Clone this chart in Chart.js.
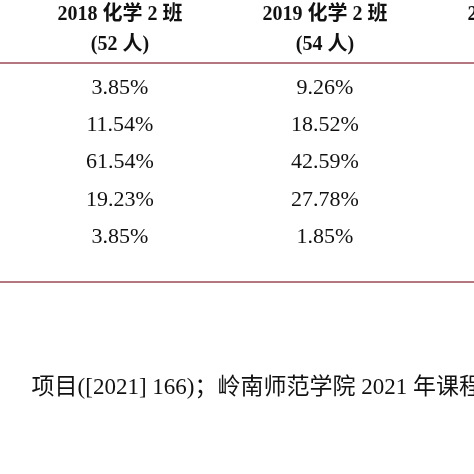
<!DOCTYPE html>
<html><head><meta charset="utf-8">
<script src="https://cdn.jsdelivr.net/npm/chart.js@4"></script>
<style>html,body{margin:0;padding:0;background:#fff}#c{display:block}</style>
</head><body>
<div style="width:474px;height:474px"><canvas id="c"></canvas></div>
<script>
const headers1 = ['2018 化学 2 班', '2019 化学 2 班', '2020 化学 2 班'];
const headers2 = ['(52 人)', '(54 人)', ''];
const class2018 = [3.85, 11.54, 61.54, 19.23, 3.85];
const class2019 = [9.26, 18.52, 42.59, 27.78, 1.85];
const footnote = '项目([2021] 166)；岭南师范学院 2021 年课程';

const serif = '"Liberation Serif", "Noto Sans CJK SC", serif';
const lineColor = '#9c4a55';

const points = [];
[class2018, class2019].forEach((col, ci) => col.forEach((v, ri) => points.push({ x: ci, y: ri, v })));

const tablePlugin = {
  id: 'table',
  afterDatasetsDraw(chart) {
    const { ctx, scales: { x, y }, width } = chart;
    ctx.save();
    ctx.fillStyle = '#111';
    ctx.textAlign = 'center';
    ctx.textBaseline = 'middle';
    ctx.font = 'bold 20px ' + serif;
    headers1.forEach((h, i) => ctx.fillText(h, x.getPixelForValue(i), y.getPixelForValue(-1.96)));
    headers2.forEach((h, i) => ctx.fillText(h, x.getPixelForValue(i), y.getPixelForValue(-1.15)));
    ctx.font = '22px ' + serif;
    points.forEach(p => ctx.fillText(p.v.toFixed(2) + '%', x.getPixelForValue(p.x), y.getPixelForValue(p.y)));
    ctx.strokeStyle = lineColor;
    ctx.lineWidth = 1.5;
    [-0.67, 5.2].forEach(v => {
      const py = y.getPixelForValue(v);
      ctx.beginPath(); ctx.moveTo(0, py); ctx.lineTo(width, py); ctx.stroke();
    });
    ctx.textAlign = 'right';
    ctx.font = '23px ' + serif;
    ctx.fillText(footnote, width + 8, y.getPixelForValue(8.04));
    ctx.restore();
  }
};

new Chart(document.getElementById('c'), {
  type: 'scatter',
  data: { datasets: [{ data: points, pointRadius: 0 }] },
  options: {
    responsive: true, maintainAspectRatio: false, animation: false,
    layout: { padding: 0 },
    plugins: { legend: { display: false }, tooltip: { enabled: false } },
    scales: {
      x: { type: 'linear', min: -0.585, max: 1.727, display: false },
      y: { type: 'linear', min: -2.36, max: 10.35, reverse: true, display: false }
    }
  },
  plugins: [tablePlugin]
});
</script>
</body></html>
